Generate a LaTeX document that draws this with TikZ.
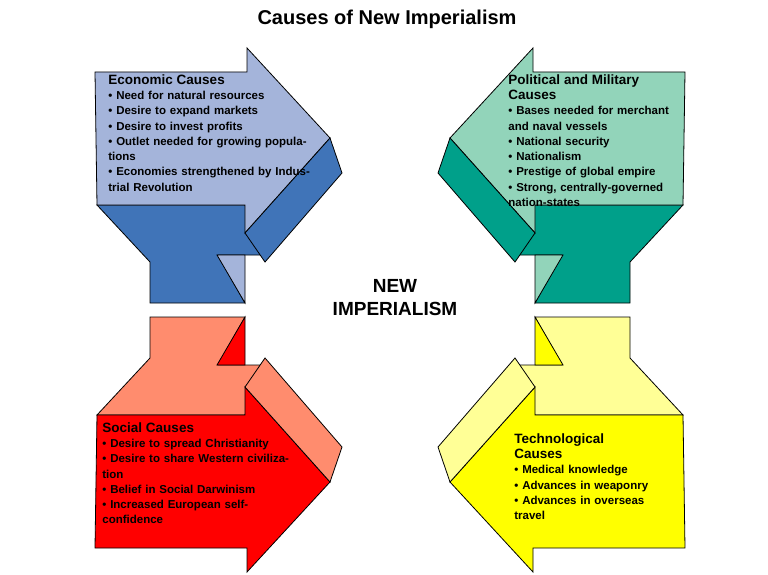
\documentclass[tikz,border=0pt]{standalone}
\usepackage{fontspec}
\setmainfont{Liberation Sans}
\definecolor{ecoL}{RGB}{164,180,218}
\definecolor{ecoD}{RGB}{64,116,184}
\definecolor{polL}{RGB}{146,212,186}
\definecolor{polD}{RGB}{0,160,138}
\definecolor{socF}{RGB}{255,0,0}
\definecolor{socL}{RGB}{255,140,110}
\definecolor{tecF}{RGB}{255,255,0}
\definecolor{tecL}{RGB}{255,255,150}
\newcommand\quadshape[4]{% xs, ys, facecolor, flapcolor
\begin{scope}[shift={(390,310)},xscale=#1,yscale=#2]
\draw[fill=#4] (-293,-105) -- (-145,-105) -- (-130,-55) -- (-172,-55) -- (-145,-7) -- (-240,-7) -- (-240,-48) -- cycle;
\draw[fill=#3] (-173,-55) -- (-145,-55) -- (-145,-7) -- cycle;
\draw[fill=#3] (-295,-238) -- (-143,-238) -- (-143,-262) -- (-60,-172) -- (-145,-77) -- (-145,-105) -- (-293,-105) -- cycle;
\draw[fill=#4] (-60,-172) -- (-48,-137) -- (-125,-48) -- (-145,-77) -- cycle;
\end{scope}}
\tikzset{body/.style={anchor=north west,align=left,font=\bfseries\fontsize{11.5}{15.3}\selectfont,inner sep=0pt},
head/.style={font=\bfseries\fontsize{13.5}{17}\selectfont}}
\begin{document}
\begin{tikzpicture}[x=1pt,y=-1pt,line width=0.8pt]
\useasboundingbox[fill=white] (0,0) rectangle (768,575);
\quadshape{1}{1}{ecoL}{ecoD}
\quadshape{-1}{1}{polL}{polD}
\quadshape{1}{-1}{socF}{socL}
\quadshape{-1}{-1}{tecF}{tecL}
\node[font=\bfseries\fontsize{20}{24}\selectfont] (title) at (387,19) {Causes of New Imperialism};
\node[font=\bfseries\fontsize{19}{23}\selectfont,align=center] (center) at (395,298) {NEW\\IMPERIALISM};
\node[body,text width=210] (eco) at (108,74) {{\fontsize{13.5}{15.3}\selectfont Economic Causes}\\
• Need for natural resources\\
• Desire to expand markets\\
• Desire to invest profits\\
• Outlet needed for growing populations\\
• Economies strengthened by Industrial Revolution};
\node[body,text width=182] (pol) at (508,74) {{\fontsize{13.5}{17}\selectfont Political and Military\\ Causes}\\
• Bases needed for merchant and naval vessels\\
• National security\\
• Nationalism\\
• Prestige of global empire\\
• Strong, centrally-governed nation-states};
\node[body,text width=190] (soc) at (102,422) {{\fontsize{13.5}{15.3}\selectfont Social Causes}\\
• Desire to spread Christianity\\
• Desire to share Western civilization\\
• Belief in Social Darwinism\\
• Increased European  self-confidence};
\node[body,text width=160] (tec) at (514,433) {{\fontsize{13.5}{17}\selectfont Technological\\ Causes}\\
• Medical knowledge\\
• Advances in weaponry\\
• Advances in overseas travel};
\end{tikzpicture}
\end{document}
